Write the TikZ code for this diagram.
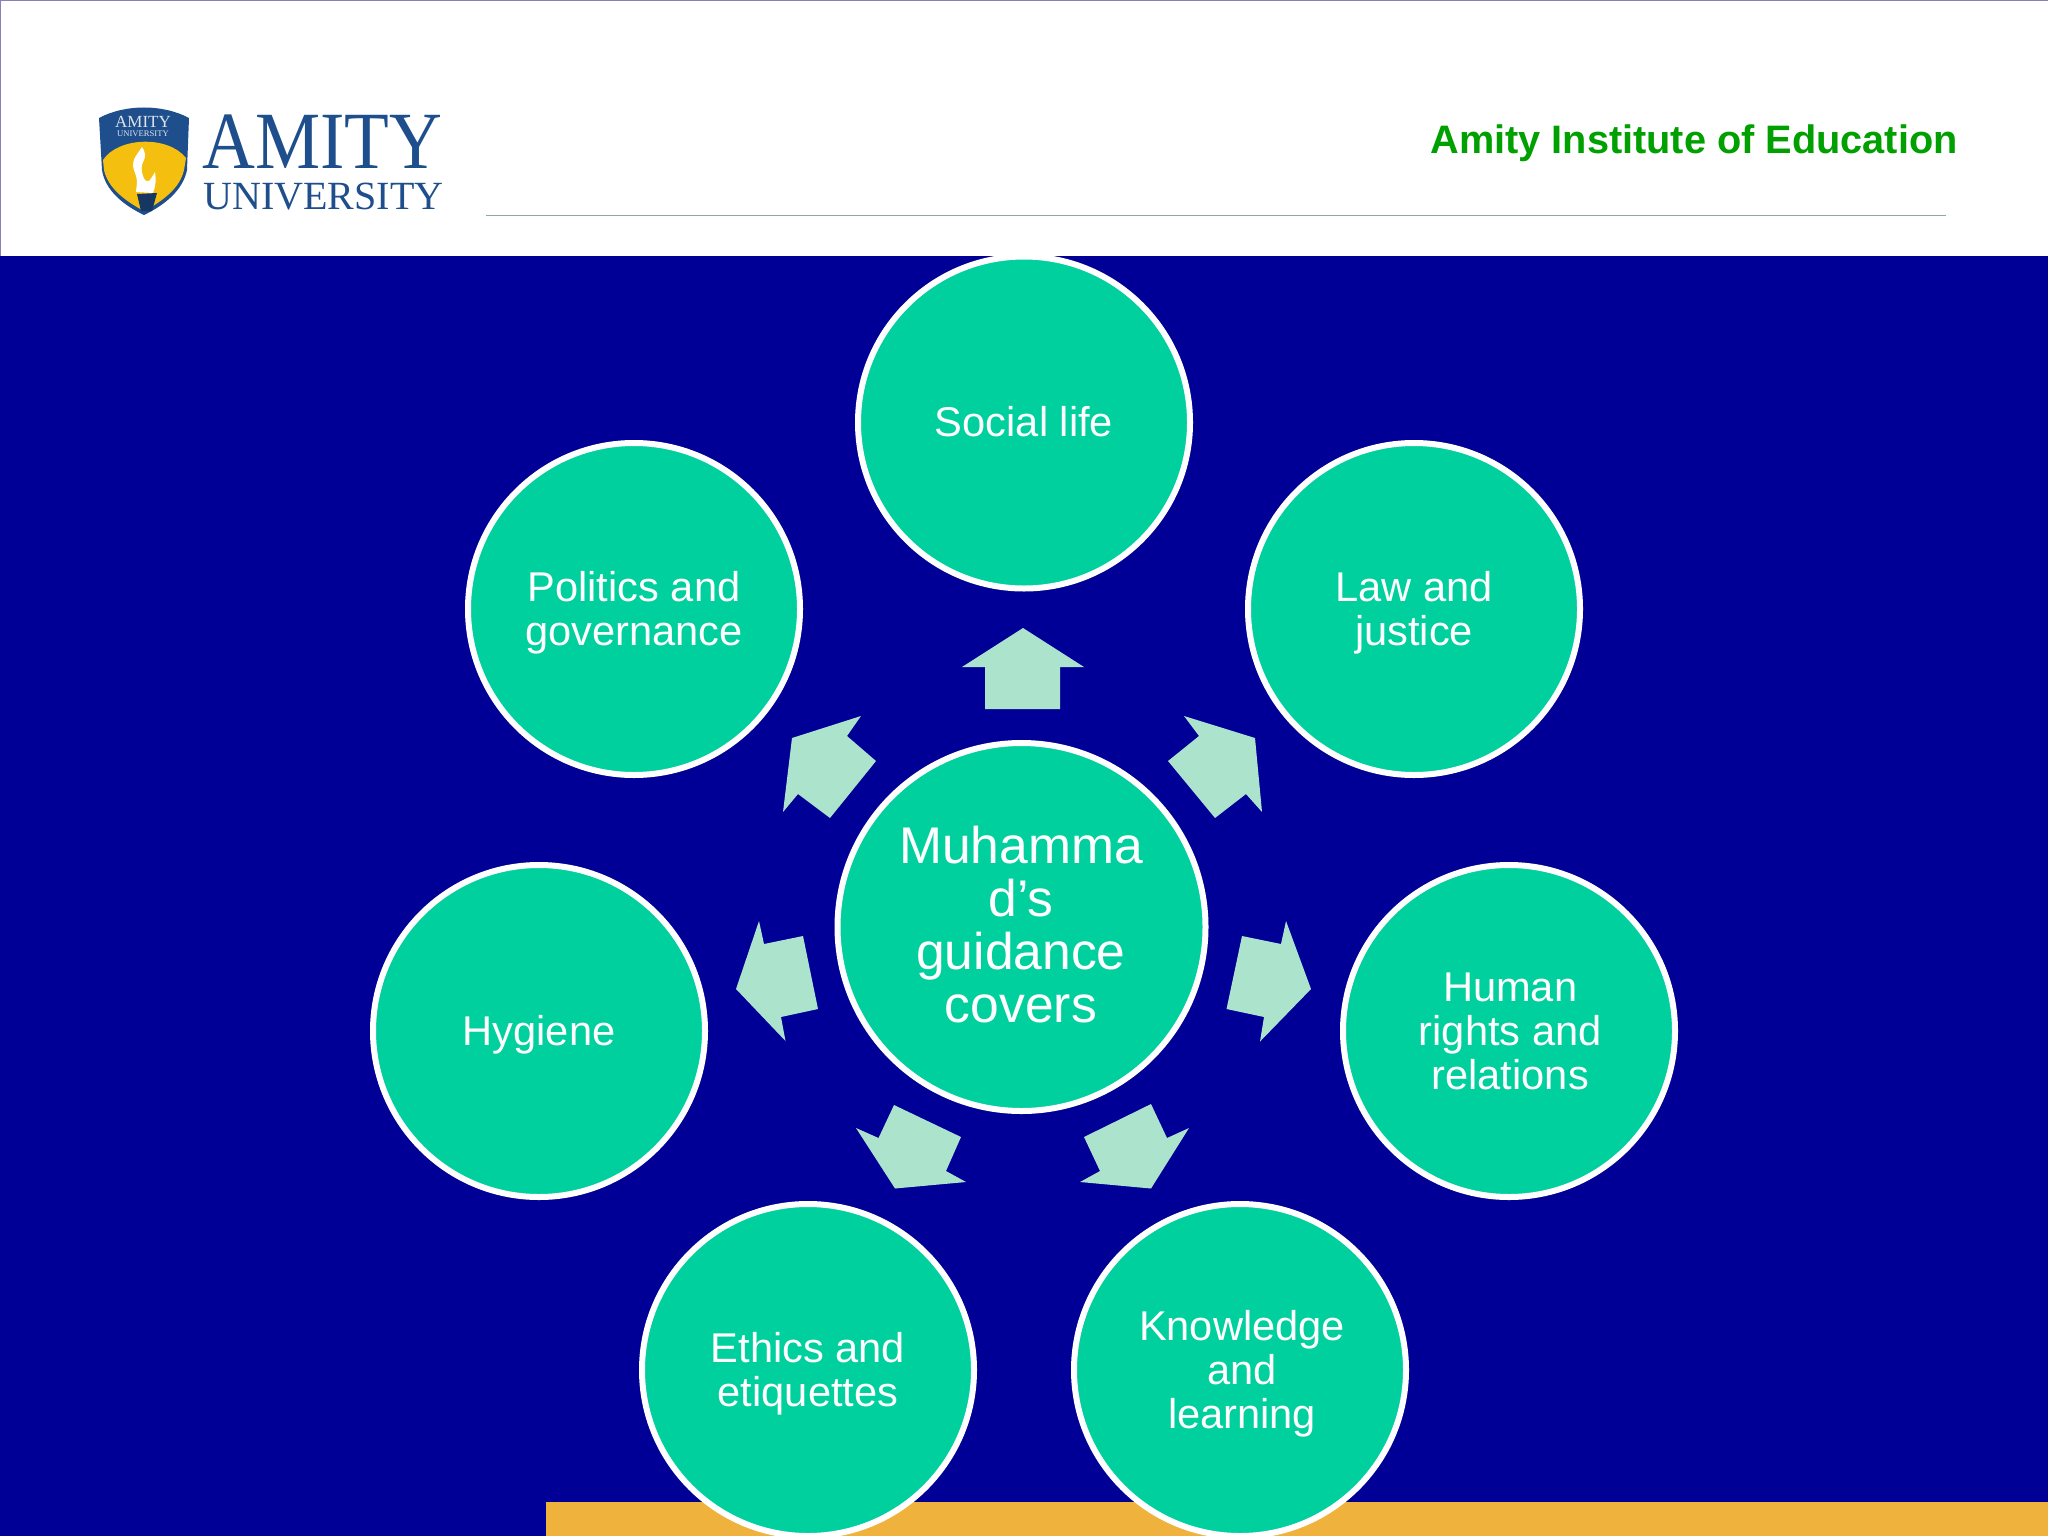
\documentclass[tikz,border=0pt]{standalone}
\usepackage{fontspec}
\setmainfont{Liberation Sans}
\newfontfamily\logofont{Liberation Serif}
\definecolor{navybg}{HTML}{000096}
\definecolor{tealfill}{HTML}{00D09E}
\definecolor{arrowfill}{HTML}{ACE3CD}
\definecolor{barfill}{HTML}{EFB23C}
\definecolor{titlegreen}{HTML}{00A000}
\definecolor{rulegrey}{HTML}{8FA8A8}
\definecolor{framepurple}{HTML}{8880BB}
\definecolor{logoblue}{HTML}{1F4E8C}
\definecolor{logoyellow}{HTML}{F5BF10}
\tikzset{
  x=0.5pt,y=-0.5pt,
  outercircle/.style={circle,draw=white,line width=3pt,fill=tealfill,minimum size=166pt,inner sep=0pt},
  centercircle/.style={circle,draw=white,line width=3pt,fill=tealfill,minimum size=184pt,inner sep=0pt},
  outertext/.style={inner sep=0pt,text=white,align=center,font=\fontsize{20.8}{22}\selectfont},
  centertext/.style={inner sep=0pt,text=white,align=center,font=\fontsize{25.8}{26.5}\selectfont},
  blockarrow/.style={fill=arrowfill,draw=none},
  logotext/.style={anchor=base west,inner sep=0pt,text=logoblue},
}
\begin{document}
\begin{tikzpicture}
\useasboundingbox (0,0) rectangle (2048,1536);
\clip (0,0) rectangle (2048,1536);
% backgrounds
\fill[white] (0,0) rectangle (2048,256);
\fill[navybg] (0,256) rectangle (2048,1536);
\fill[barfill] (546,1502) rectangle (2048,1536);
\draw[framepurple,line width=0.7pt] (0.5,256) -- (0.5,0.5) -- (2048,0.5);
% header
\draw[rulegrey,line width=0.7pt] (486,215.5) -- (1946,215.5);
\node[anchor=east,inner sep=0pt,text=titlegreen,font=\fontsize{19.85}{24}\selectfont\bfseries] (title) at (1958,143) {Amity Institute of Education};
% logo shield
\fill[logoblue] (99,118) .. controls (125,104) and (163,104) .. (189,118)
  -- (187,170) .. controls (183,190) and (165,205) .. (144,215)
  .. controls (123,205) and (105,190) .. (102,170) -- cycle;
\fill[logoyellow] (103,160) .. controls (118,137) and (168,135) .. (186,158)
  -- (184,170) .. controls (180,188) and (163,201) .. (144,211)
  .. controls (125,201) and (108,188) .. (104,170) -- cycle;
\fill[white] (142,147) .. controls (138,153) and (132,160) .. (133,166)
  .. controls (134,172) and (137,176) .. (137,182)
  -- (136,192) -- (153,193)
  .. controls (156,186) and (156,178) .. (155,172)
  .. controls (153,176) and (151,178) .. (150,180)
  .. controls (147,183) and (144,180) .. (143,176)
  .. controls (141,170) and (141,165) .. (144,160)
  .. controls (146,156) and (145,151) .. (142,147) -- cycle;
\fill[logoblue!70!black] (137,194) -- (157,193) -- (152,211) -- (141,211) -- cycle;
\node[inner sep=0pt,text=white!85!logoblue,font=\logofont\fontsize{8.5}{9}\selectfont] (shieldone) at (143,122) {AMITY};
\node[inner sep=0pt,text=white!85!logoblue,font=\logofont\fontsize{4.3}{5}\selectfont] (shieldtwo) at (143,134) {UNIVERSITY};
\node[logotext,font=\logofont\fontsize{36.6}{40}\selectfont] (logoa) at (202,168) {\scalebox{1}[1.11]{AMITY}};
\node[logotext,font=\logofont\fontsize{20}{22}\selectfont] (logob) at (203,209) {UNIVERSITY};
% block arrows
\fill[blockarrow] (1023,628) -- (1084,667) -- (1060,667) -- (1060,709) -- (985,709) -- (985,667) -- (962,667) -- cycle;
\fill[blockarrow] (1184,716) -- (1255,738) -- (1262,812) -- (1246,794) -- (1215,818) -- (1168,761) -- (1199,736) -- cycle;
\fill[blockarrow] (861,716) -- (792,738) -- (783,812) -- (798,794) -- (830,818) -- (876,761) -- (847,736) -- cycle;
\fill[blockarrow] (1286,921) -- (1311,989) -- (1260,1041.5) -- (1264,1017) -- (1226.5,1009) -- (1242,936) -- (1281,944) -- cycle;
\fill[blockarrow] (759,921) -- (736,989) -- (785.5,1041) -- (781,1017) -- (818,1009) -- (803,936) -- (764,944) -- cycle;
\fill[blockarrow] (1151,1104) -- (1167,1138) -- (1189,1128) -- (1151,1188.5) -- (1080,1182) -- (1100,1171) -- (1084,1137) -- cycle;
\fill[blockarrow] (894,1105) -- (961,1137) -- (946,1171) -- (966,1182) -- (895,1188.5) -- (856,1128) -- (878.5,1138) -- cycle;
% circles
\node[centercircle] (centre) at (1021.5,927) {};
\node[outercircle] (social) at (1024,422.5) {};
\node[outercircle] (law) at (1414,609) {};
\node[outercircle] (human) at (1509,1031) {};
\node[outercircle] (knowledge) at (1240,1370) {};
\node[outercircle] (ethics) at (808,1370) {};
\node[outercircle] (hygiene) at (539,1031) {};
\node[outercircle] (politics) at (634,609) {};
% circle texts
\node[centertext] (centretext) at ([xshift=-0.3pt,yshift=1.3pt]centre.center) {Muhamma\\d’s\\guidance\\covers};
\node[outertext] (socialtext) at ([yshift=0.6pt]social.center) {Social life};
\node[outertext] (lawtext) at ([yshift=-2pt]law.center) {Law and\\justice};
\node[outertext] (humantext) at ([xshift=0.6pt]human.center) {Human\\rights and\\relations};
\node[outertext] (knowledgetext) at ([xshift=1pt,yshift=-2pt]knowledge.center) {Knowledge\\and\\learning};
\node[outertext] (ethicstext) at ([yshift=-1.7pt]ethics.center) {Ethics and\\etiquettes};
\node[outertext] (hygienetext) at ([yshift=-2pt]hygiene.center) {Hygiene};
\node[outertext] (politicstext) at ([yshift=-2pt]politics.center) {Politics and\\governance};
\end{tikzpicture}
\end{document}
